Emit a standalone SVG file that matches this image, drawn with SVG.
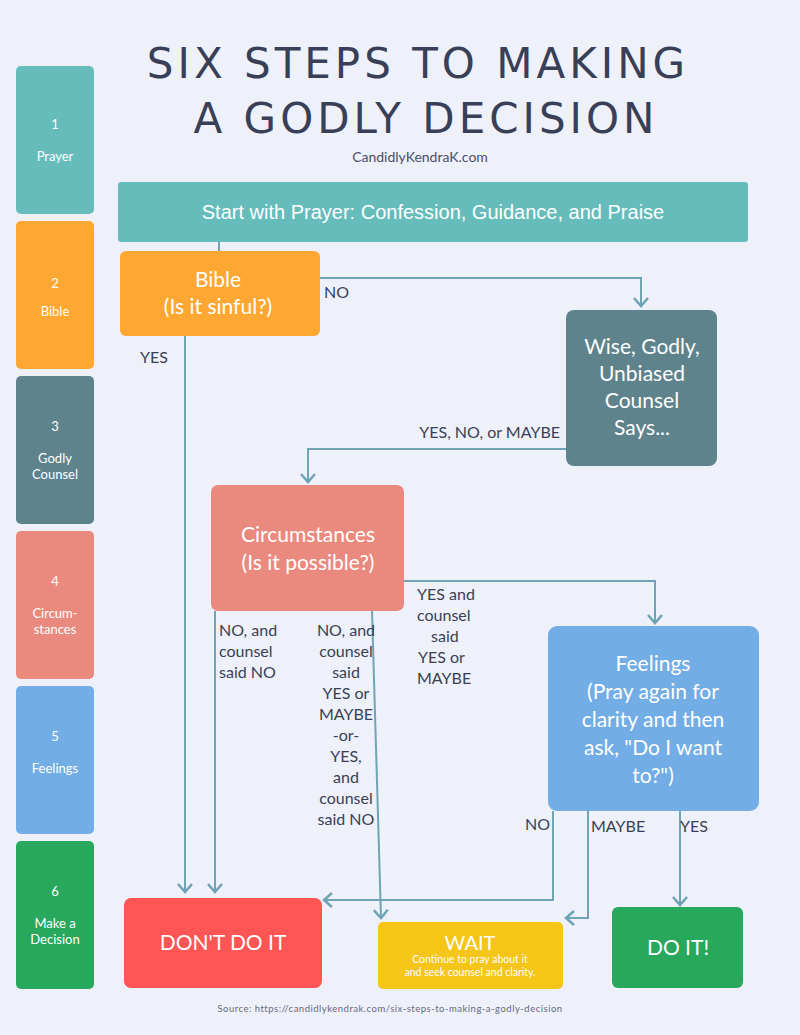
<svg xmlns="http://www.w3.org/2000/svg" width="800" height="1035" viewBox="0 0 800 1035">
<style>
text{font-family:Lato,"Liberation Sans",sans-serif}
.side{fill:#fff;font-size:13px;text-anchor:middle}
.w{fill:#fff;text-anchor:middle}
.lbl{fill:#3a3f55;font-size:16px}
.c{fill:none;stroke:#6fa3b6;stroke-width:2}
.t{fill:#3a3f58;font-family:"DejaVu Sans",sans-serif;font-size:42px;text-anchor:middle;letter-spacing:4px}
.arial{font-family:"Liberation Sans",sans-serif}
</style>
<defs><marker id="a" markerWidth="20" markerHeight="20" refX="10" refY="10" orient="auto" markerUnits="userSpaceOnUse"><path d="M2,3 L10,10 L2,17" fill="none" stroke="#6fa3b6" stroke-width="2.5"/></marker></defs>
<rect width="800" height="1035" fill="#eef1fa"/>
<g id="title">
<text class="t" x="418" y="78">SIX STEPS TO MAKING</text>
<text class="t" x="426" y="133">A GODLY DECISION</text>
<text x="420" y="162" fill="#4a4f6a" font-size="14" text-anchor="middle">CandidlyKendraK.com</text>
</g>
<g id="sidebar">
<rect x="16" y="66" width="78" height="148" rx="5" fill="#66bcbb"/><text class="side" x="55" y="129">1</text><text class="side" x="55" y="161">Prayer</text>
<rect x="16" y="221" width="78" height="148" rx="5" fill="#ffa733"/><text class="side" x="55" y="288">2</text><text class="side" x="55" y="316">Bible</text>
<rect x="16" y="376" width="78" height="148" rx="5" fill="#5e838c"/><text class="side" x="55" y="431">3</text><text class="side" x="55" y="463">Godly</text><text class="side" x="55" y="479">Counsel</text>
<rect x="16" y="531" width="78" height="148" rx="5" fill="#ea8a7e"/><text class="side" x="55" y="586">4</text><text class="side" x="55" y="618">Circum-</text><text class="side" x="55" y="634">stances</text>
<rect x="16" y="686" width="78" height="148" rx="5" fill="#72ade5"/><text class="side" x="55" y="741">5</text><text class="side" x="55" y="773">Feelings</text>
<rect x="16" y="841" width="78" height="148" rx="5" fill="#27a85c"/><text class="side" x="55" y="896">6</text><text class="side" x="55" y="928">Make a</text><text class="side" x="55" y="944">Decision</text>
</g>
<g id="connectors">
<path class="c" d="M219,242 V251"/>
<path class="c" d="M320,278 H641 V306" marker-end="url(#a)"/>
<path class="c" d="M185,336 V892" marker-end="url(#a)"/>
<path class="c" d="M566,449 H308 V482" marker-end="url(#a)"/>
<path class="c" d="M404,581 H655 V623" marker-end="url(#a)"/>
<path class="c" d="M215,611 V892" marker-end="url(#a)"/>
<path class="c" d="M372,611 L381,918" marker-end="url(#a)"/>
<path class="c" d="M553,811 V900 H324" marker-end="url(#a)"/>
<path class="c" d="M588,811 V918 H566" marker-end="url(#a)"/>
<path class="c" d="M680,811 V905" marker-end="url(#a)"/>
<text class="lbl" x="324" y="298">NO</text>
<text class="lbl" x="140" y="363">YES</text>
<text class="lbl" x="560" y="438" text-anchor="end">YES, NO, or MAYBE</text>
<text class="lbl" x="417" y="600">YES and</text><text class="lbl" x="417" y="621">counsel</text><text class="lbl" x="431" y="642">said</text><text class="lbl" x="418" y="663">YES or</text><text class="lbl" x="417" y="684">MAYBE</text>
<text class="lbl" x="219" y="636">NO, and</text><text class="lbl" x="219" y="657">counsel</text><text class="lbl" x="219" y="678">said NO</text>
<g text-anchor="middle"><text class="lbl" x="346" y="636">NO, and</text><text class="lbl" x="346" y="657">counsel</text><text class="lbl" x="346" y="678">said</text><text class="lbl" x="346" y="699">YES or</text><text class="lbl" x="346" y="720">MAYBE</text><text class="lbl" x="346" y="741">-or-</text><text class="lbl" x="346" y="762">YES,</text><text class="lbl" x="346" y="783">and</text><text class="lbl" x="346" y="804">counsel</text><text class="lbl" x="346" y="825">said NO</text></g>
<text class="lbl" x="525" y="830">NO</text>
<text class="lbl" x="591" y="832">MAYBE</text>
<text class="lbl" x="680" y="832">YES</text>
</g>
<g id="start"><rect x="118" y="182" width="630" height="60" rx="3" fill="#66bcbb"/><text class="w arial" x="433" y="219" font-size="20">Start with Prayer: Confession, Guidance, and Praise</text></g>
<g id="bible"><rect x="120" y="251" width="200" height="85" rx="6" fill="#ffa733"/><text class="w" x="218" y="287" font-size="21">Bible</text><text class="w" x="218" y="314" font-size="21">(Is it sinful?)</text></g>
<g id="counsel"><rect x="566" y="310" width="151" height="156" rx="8" fill="#5e838c"/><g class="w" font-size="21"><text x="642" y="354">Wise, Godly,</text><text x="642" y="381">Unbiased</text><text x="642" y="408">Counsel</text><text x="642" y="435">Says...</text></g></g>
<g id="circ"><rect x="211" y="485" width="193" height="126" rx="7" fill="#ea8a7e"/><text class="w" x="308" y="542" font-size="21">Circumstances</text><text class="w" x="308" y="570" font-size="21">(Is it possible?)</text></g>
<g id="feelings"><rect x="548" y="626" width="211" height="185" rx="9" fill="#72ade5"/><g class="w" font-size="21"><text x="653" y="671">Feelings</text><text x="653" y="699">(Pray again for</text><text x="653" y="727">clarity and then</text><text x="653" y="755">ask, "Do I want</text><text x="653" y="783">to?")</text></g></g>
<g id="dont"><rect x="124" y="898" width="198" height="90" rx="7" fill="#ff5555"/><text class="w" x="223" y="950" font-size="21">DON'T DO IT</text></g>
<g id="wait"><rect x="378" y="922" width="185" height="67" rx="5" fill="#f5c518"/><text class="w" x="470" y="950" font-size="20">WAIT</text><text class="w" x="470" y="963" font-size="10.5">Continue to pray about it</text><text class="w" x="470" y="976" font-size="10.5">and seek counsel and clarity.</text></g>
<g id="doit"><rect x="612" y="907" width="131" height="81" rx="6" fill="#27a85c"/><text class="w" x="678" y="955" font-size="21">DO IT!</text></g>
<text x="390" y="1012" fill="#666a7a" font-size="9.5" text-anchor="middle" letter-spacing="0.5">Source: https://candidlykendrak.com/six-steps-to-making-a-godly-decision</text>
</svg>
